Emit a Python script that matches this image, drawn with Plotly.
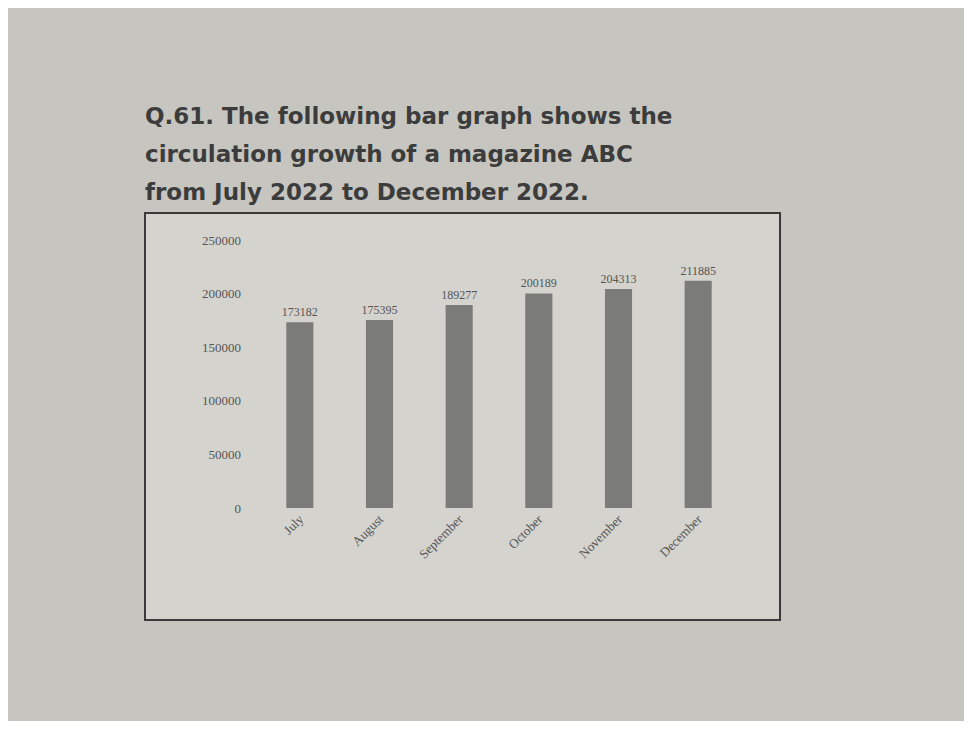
import plotly.graph_objects as go

months = ["July", "August", "September", "October", "November", "December"]
circulation = [173182, 175395, 189277, 200189, 204313, 211885]
y_ticks = [0, 50000, 100000, 150000, 200000, 250000]
y_tick_labels = ["0", "50000", "100000", "150000", "200000", "250000"]
title_lines = [
    "Q.61. The following bar graph shows the",
    "circulation growth of a magazine ABC",
    "from July 2022 to December 2022.",
]

OFF = 8  # page body margin
W, H = 972 - 2 * OFF, 729 - 2 * OFF
ML, MR, MT, MB = 252, 226, 232, 213
PW, PH = W - ML - MR, H - MT - MB


def px(x):
    return (x - OFF - ML) / PW


def py(y):
    return (H - MB - (y - OFF)) / PH


fig = go.Figure()
fig.add_trace(go.Bar(
    x=months,
    y=circulation,
    marker=dict(color="#7b7b7a", line=dict(width=0)),
    text=[str(v) for v in circulation],
    textposition="outside",
    constraintext="none",
    textfont=dict(family="Liberation Serif", size=12, color="#555555"),
    cliponaxis=False,
))

annotations = []
for i, line in enumerate(title_lines):
    annotations.append(dict(
        xref="paper", yref="paper", x=px(143), y=py(116 + 38 * i),
        xanchor="left", yanchor="middle", align="left", showarrow=False,
        text=line,
        font=dict(family="DejaVu Sans", size=23, color="#3c3c3c", weight="bold"),
    ))

fig.update_layout(
    width=W, height=H,
    margin=dict(l=ML, r=MR, t=MT, b=MB),
    paper_bgcolor="#c6c5c0",
    plot_bgcolor="rgba(0,0,0,0)",
    bargap=0.66,
    showlegend=False,
    xaxis=dict(
        tickangle=-45,
        tickfont=dict(family="Liberation Serif", size=13, color="#555555"),
        showgrid=False, showline=False, zeroline=False,
        ticks="",
    ),
    yaxis=dict(
        range=[0, 250000],
        tickvals=y_ticks,
        ticktext=y_tick_labels,
        tickfont=dict(family="Liberation Serif", size=13, color="#555555"),
        showgrid=False, showline=False, zeroline=False,
        ticks="", ticklabelstandoff=18,
    ),
    shapes=[
        dict(type="rect", xref="paper", yref="paper",
             x0=px(145), x1=px(780), y0=py(620), y1=py(213),
             line=dict(color="#3a3a3a", width=2),
             fillcolor="#d4d3ce", layer="below"),
    ],
    annotations=annotations,
)

fig.write_html("out.html")
